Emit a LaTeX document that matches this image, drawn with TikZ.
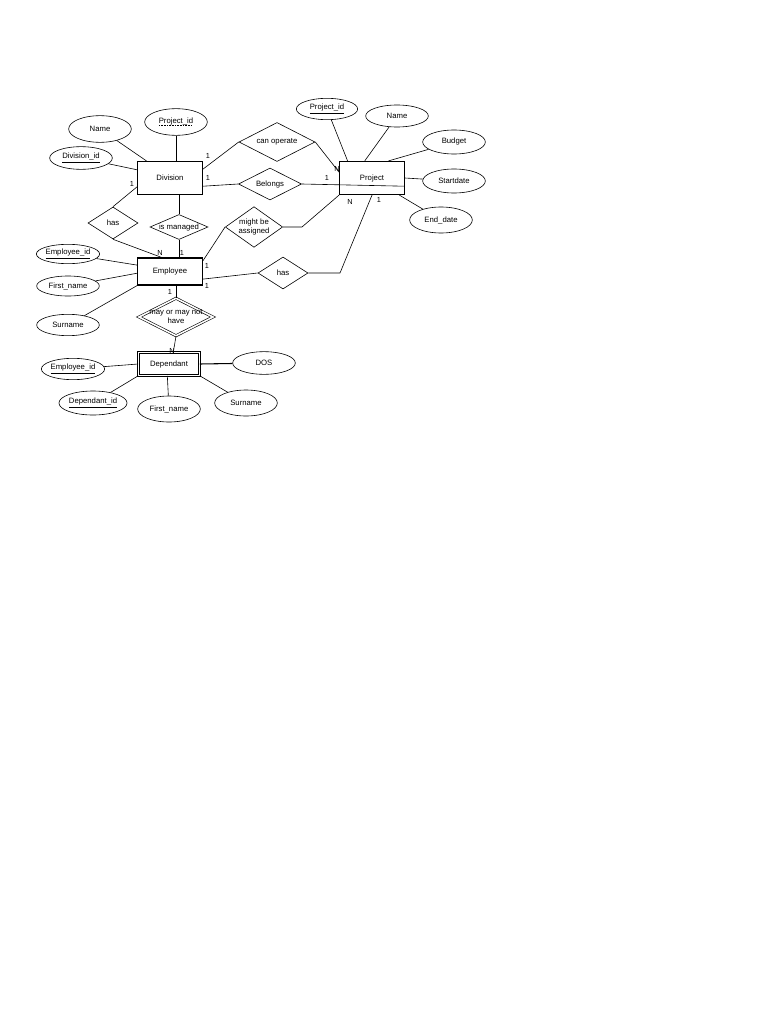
\documentclass[tikz,border=0pt]{standalone}
\usepackage{fontspec}
\setmainfont{Liberation Sans}
\usetikzlibrary{shapes.geometric}

\tikzset{
	entity/.style = {draw, line width = 0.9pt, rectangle, minimum width = 48.5pt, minimum height = 24.75pt, inner sep = 0pt},
	weakentity/.style = {draw, line width = 0.45pt, double, double distance = 1.3pt, rectangle, minimum width = 45.8pt, minimum height = 17.3pt, inner sep = 0pt},
	attr/.style = {draw, line width = 0.45pt, ellipse, minimum width = 47pt, minimum height = 18pt, inner sep = 0pt},
	rel/.style = {draw, line width = 0.45pt, diamond, inner sep = 0pt},
	card/.style = {inner sep = 0pt, font = \fontsize{5.5}{6}\selectfont},
	link/.style = {line width = 0.45pt}
}

\begin{document}
\begin{tikzpicture}[x = 0.75pt, y = -0.75pt, font = \fontsize{5.8}{7}\selectfont]
		\useasboundingbox (0, 0) rectangle (768, 1024);
		% entities and their attributes
		\node[entity] (division) at (170, 178) {Division};
		\node[attr, minimum height = 20pt] (divname) at (100, 129) {Name};
		\node[attr, minimum height = 20pt] (divproj) at (176, 122) {Project\_id};
		\draw[link, dashed, dash pattern = on 1.2pt off 0.8pt] ([xshift = -12.9pt, yshift = -2.6pt]divproj.center) -- ([xshift = 12.9pt, yshift = -2.6pt]divproj.center);
		\node[attr, minimum height = 17pt] (divid) at (81, 158) {\underline{Division\_id}};
		\node[entity] (project) at (372, 178) {Project};
		\node[attr, minimum width = 46pt, minimum height = 16pt] (projid) at (327, 109) {\underline{Project\_id}};
		\node[attr, minimum height = 16.5pt] (projname) at (397, 116) {Name};
		\node[attr] (budget) at (454, 142) {Budget};
		\node[attr] (startdate) at (454, 181) {Startdate};
		\node[attr, minimum height = 19.5pt] (enddate) at (441, 220) {End\_date};
		\node[entity, minimum height = 20.25pt] (employee) at (170, 271.5) {Employee};
		\node[attr, minimum height = 14.5pt] (empid) at (68, 254) {\underline{Employee\_id}};
		\node[attr, minimum height = 15pt] (empfirst) at (68, 286) {First\_name};
		\node[attr, minimum height = 16pt] (empsur) at (68, 325) {Surname};
		\node[weakentity] (dependant) at (169, 364) {Dependant};
		\node[attr, minimum height = 16pt] (depempid) at (73, 369) {\underline{Employee\_id}};
		\node[attr] (depid) at (93, 403) {\underline{Dependant\_id}};
		\node[attr, minimum height = 19.5pt] (depfirst) at (169, 409) {First\_name};
		\node[attr, minimum height = 19.5pt] (depsur) at (246, 403) {Surname};
		\node[attr, minimum height = 17pt] (dob) at (264, 363) {DOS};
		% relationships
		\node[rel, minimum width = 57pt, minimum height = 29.25pt, aspect = 1.95] (canoperate) at (277, 142) {can operate};
		\node[rel, minimum width = 47.25pt, minimum height = 24pt, aspect = 1.97] (belongs) at (270, 184) {Belongs};
		\node[rel, minimum width = 41.25pt, minimum height = 29.25pt, aspect = 1.41] (assigned) at (254, 227) {\begin{tabular}{@{}c@{}} might be \\ assigned \end{tabular}};
		\node[rel, minimum width = 37.5pt, minimum height = 24pt, aspect = 1.56] (hasdiv) at (113, 223) {has};
		\node[rel, minimum width = 43.5pt, minimum height = 18.75pt, aspect = 2.32] (managed) at (179, 227) {is managed};
		\node[rel, minimum width = 37.5pt, minimum height = 24pt, aspect = 1.56] (hasproj) at (283, 273) {has};
		\node[rel, double, double distance = 1.2pt, minimum width = 54pt, minimum height = 26.5pt, aspect = 1.97, inner sep = -2pt] (mayhave) at (176, 317) {\begin{tabular}{@{}c@{}} may or may not \\ have \end{tabular}};
		\coordinate (assignbend) at (302, 227);
		\coordinate (hasbend) at (340, 273);
		% connectors
		\draw[link] (divname) -- (division.144);
		\draw[link] (divproj) -- (divproj |- division.north);
		\draw[link] (divid) -- (division.166);
		\draw[link] (division.15) -- (canoperate.west);
		\draw[link] (canoperate.east) -- (project.170);
		\draw[link] (division.-14) -- (belongs.west);
		\draw[link] (belongs.east) -- (project.-14);
		\draw[link] (division.195) -- (hasdiv.north);
		\draw[link] (hasdiv.south) -- (employee.121);
		\draw[link] (managed.north |- division.south) -- (managed.north);
		\draw[link] (managed.south) -- (managed.south |- employee.north);
		\draw[link] (employee.18) -- (assigned.west);
		\draw[link] (assigned.east) -- (assignbend) -- (project.south west);
		\draw[link] (employee.-13) -- (hasproj.west);
		\draw[link] (hasproj.east) -- (hasbend) -- (project.south);
		\draw[link] (projid) -- (project.145);
		\draw[link] (projname) -- (project.113);
		\draw[link] (budget) -- (project.46);
		\draw[link] (startdate) -- (project.east);
		\draw[link] (enddate) -- (project.-32);
		\draw[link] (empid) -- (employee.169);
		\draw[link] (empfirst) -- (employee.183);
		\draw[link] (empsur) -- (employee.south west);
		\draw[link] (mayhave.north |- employee.south) -- (mayhave.north);
		\draw[link] (mayhave.south) -- (dependant.70);
		\draw[link] (depempid) -- (dependant.west);
		\draw[link] (depid) -- (dependant.south west);
		\draw[link] (depfirst) -- (dependant.262);
		\draw[link] (depsur) -- (dependant.south east);
		\draw[link, line width = 0.8pt] (dob) -- (dependant.east);
		% cardinalities
		\node[card] (cdivop) at (208, 156) {1};
		\node[card] (cprojop) at (337, 169) {N};
		\node[card] (cdivbel) at (208, 178) {1};
		\node[card] (cprojbel) at (327, 178) {1};
		\node[card] (cdivhas) at (132, 184) {1};
		\node[card] (cemphas) at (160, 253) {N};
		\node[card] (cempman) at (182, 253) {1};
		\node[card] (cempass) at (207, 266) {1};
		\node[card] (cprojass) at (350, 202) {N};
		\node[card] (cemphp) at (207, 286) {1};
		\node[card] (cprojhp) at (379, 200) {1};
		\node[card] (cempmay) at (170, 292) {1};
		\node[card] (cdepmay) at (172, 351) {N};
	\end{tikzpicture}
\end{document}
